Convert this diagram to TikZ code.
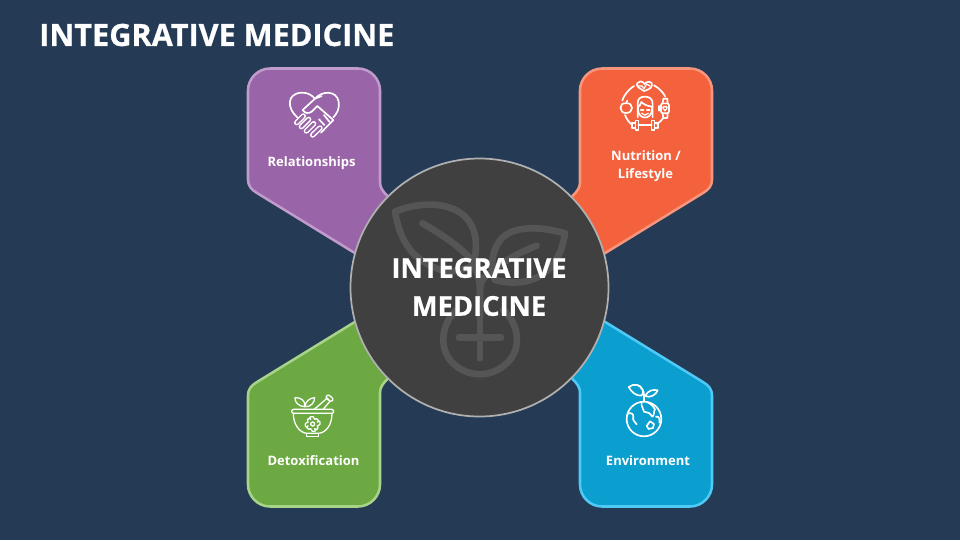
\documentclass[tikz,border=0pt]{standalone}
\usepackage{fontspec}
\setmainfont{Open Sans}[BoldFeatures={FakeBold=0.7}]
\newfontfamily\labf{Open Sans}
\definecolor{bg}{HTML}{243A55}
\definecolor{hubfill}{HTML}{404040}
\definecolor{hubline}{HTML}{B0B0B0}
\definecolor{ghost}{HTML}{555555}
\definecolor{purp}{HTML}{9A64A8}\definecolor{purpl}{HTML}{C19BCB}
\definecolor{oran}{HTML}{F4623D}\definecolor{oranl}{HTML}{F8967D}
\definecolor{gree}{HTML}{6DA942}\definecolor{greel}{HTML}{A8D48A}
\definecolor{blu}{HTML}{0A9FCF}\definecolor{blul}{HTML}{4FC9F6}
\tikzset{
  card/.style={line width=1.9pt,line join=round},
  lab/.style={text=white,font=\labf\bfseries\fontsize{9.75}{12}\selectfont,inner sep=0pt,anchor=center},
  icon/.style={draw=white,line width=1.25pt,line cap=round,line join=round},
  iconthin/.style={draw=white,line width=.95pt,line cap=round,line join=round},
  finger/.style={draw=white,line width=1.1pt,double=purp,double distance=1.8pt,line cap=round},
  gl/.style={draw=ghost,line width=5pt,line cap=round,line join=round},
}
\newcommand{\cardshape}{(-232,-197) .. controls (-232,-209) and (-222,-219) .. (-210,-219) -- (-122,-219) .. controls (-110,-219) and (-100,-209) .. (-100,-197) -- (-100,-105) .. controls (-100,-100) and (-97,-96) .. (-93,-92) -- (-70,-60) -- (-100,-19) -- (-223,-94.5) .. controls (-229,-98) and (-232,-102) .. (-232,-108) -- cycle}
\begin{document}
\begin{tikzpicture}[x=0.75pt,y=-0.75pt]
\useasboundingbox (0,0) rectangle (960,540);
\fill[bg] (0,0) rectangle (960,540);
% cards
\begin{scope}[shift={(480,287.5)}]
\draw[card,fill=purp,draw=purpl] \cardshape;
\begin{scope}[xscale=-1]\draw[card,fill=oran,draw=oranl] \cardshape;\end{scope}
\begin{scope}[yscale=-1]\draw[card,fill=gree,draw=greel] \cardshape;\end{scope}
\begin{scope}[xscale=-1,yscale=-1]\draw[card,fill=blu,draw=blul] \cardshape;\end{scope}
\end{scope}
% hub
\node[circle,fill=hubfill,draw=hubline,line width=1.3pt,minimum size=193.5pt,inner sep=0pt] (hub) at (479.5,287.5) {};
% ghost icon (zoom coordinates)
\begin{scope}[shift={(345,155)},scale=0.3333]
\draw[gl] (150,170) .. controls (210,145) and (300,135) .. (355,180) .. controls (395,215) and (400,270) .. (385,330);
\draw[gl] (150,170) .. controls (165,260) and (205,320) .. (290,345) .. controls (320,352) and (350,350) .. (385,330);
\draw[gl] (232,205) .. controls (285,235) and (340,270) .. (385,320);
\draw[gl] (405,490) -- (405,405) .. controls (405,370) and (395,350) .. (385,330);
\draw[gl] (660,235) .. controls (590,215) and (510,210) .. (470,250) .. controls (440,285) and (435,330) .. (450,375);
\draw[gl] (660,235) .. controls (650,310) and (610,365) .. (540,380) .. controls (505,385) and (475,382) .. (450,375);
\draw[gl] (575,272) .. controls (530,290) and (480,315) .. (445,345);
\draw[gl] (405,405) .. controls (405,375) and (425,355) .. (450,345);
\draw[gl] (335,465) .. controls (285,510) and (280,590) .. (330,630) .. controls (375,668) and (440,668) .. (485,625) .. controls (530,585) and (525,510) .. (475,465);
\draw[gl] (342,548) -- (468,548);
\draw[gl] (405,490) -- (405,610);
\end{scope}
% hub text
\node[text=white,font=\bfseries\fontsize{20.5}{28.5}\selectfont,align=center,inner sep=0pt] (hubtext) at (479,287) {INTEGRATIVE\\MEDICINE};
% title
\node[text=white,font=\bfseries\fontsize{23}{28}\selectfont,anchor=west,inner sep=0pt] (title) at (39,35) {INTEGRATIVE MEDICINE};
% labels
\node[lab] (l1) at (311.5,163) {Relationships};
\node[lab] (l2a) at (646,156) {Nutrition /};
\node[lab] (l2b) at (645.5,175) {Lifestyle};
\node[lab] (l3) at (313.5,461) {Detoxification};
\node[lab] (l4) at (648,461) {Environment};
% handshake icon
\begin{scope}[shift={(240,60)},scale=0.3333]
\draw[icon] (172,172) .. controls (140,145) and (140,100) .. (185,98) .. controls (205,97) and (218,108) .. (225,116) .. controls (245,92) and (290,90) .. (296,125) .. controls (300,145) and (290,162) .. (280,172);
\draw[icon] (245,108) -- (225,116) -- (188,150) .. controls (195,160) and (205,162) .. (215,155) -- (232,138) -- (280,180) -- (243,218);
\draw[finger] (170,188) -- (190,168);
\draw[finger] (184,200) -- (206,178);
\draw[finger] (199,213) -- (221,191);
\draw[finger] (218,225) -- (240,204);
\draw[icon] (237,178) -- (253,195);
\draw[icon] (252,165) -- (268,185);
\end{scope}
% nutrition icon
\begin{scope}[shift={(570,60)},scale=0.3333]
\draw[icon] (192,78) .. controls (170,92) and (158,115) .. (157,122);
\draw[icon] (252,76) .. controls (268,85) and (280,98) .. (286,110);
\draw[icon] (165,165) .. controls (170,178) and (178,188) .. (186,194);
\draw[icon] (262,192) .. controls (270,186) and (275,180) .. (280,174);
\draw[icon] (222,93) -- (205,82) .. controls (195,72) and (205,64) .. (212,64) .. controls (218,64) and (222,70) .. (223,72) .. controls (228,64) and (250,60) .. (245,78) .. controls (244,85) and (232,90) .. (222,93) -- cycle;
\draw[iconthin] (204,78) -- (216,78) -- (222,86) -- (230,72) -- (240,78);
\draw[icon] (168,130) .. controls (146,126) and (146,160) .. (168,159) .. controls (192,160) and (192,126) .. (168,130) -- cycle;
\draw[icon] (168,130) -- (172,122);
\draw[icon,rounded corners=1.5pt] (273,130) rectangle (297,160);
\draw[icon] (278,130) -- (280,116) -- (292,116) -- (293,130);
\draw[icon] (278,160) -- (280,174) -- (292,174) -- (293,160);
\draw[iconthin] (285,152) .. controls (274,143) and (280,136) .. (285,141) .. controls (290,136) and (296,143) .. (285,152) -- cycle;
\draw[icon] (267,138) -- (267,152);
% head
\draw[icon] (203,172) -- (203,130) .. controls (203,115) and (212,110) .. (225,110) .. controls (240,110) and (248,118) .. (248,132) -- (248,172);
\draw[icon] (204,150) .. controls (206,180) and (244,180) .. (246,150) -- (246,140) .. controls (230,138) and (220,132) .. (214,126) .. controls (212,134) and (208,138) .. (204,142) -- cycle;
\draw[iconthin] (212,150) -- (221,150);
\draw[iconthin] (230,150) -- (239,150);
\draw[iconthin] (215,160) .. controls (220,167) and (230,167) .. (235,160);
% dumbbell
\draw[icon] (205,196) -- (245,196);
\draw[icon] (205,182) rectangle (196,211);
\draw[icon] (245,182) rectangle (254,211);
\draw[icon] (196,189) -- (186,189) -- (186,205) -- (196,205);
\draw[icon] (254,189) -- (264,189) -- (264,205) -- (254,205);
\end{scope}
% mortar icon
\begin{scope}[shift={(240,310)},scale=0.3333]
\draw[iconthin,rounded corners=1.5pt] (155,298) rectangle (281,310);
\draw[iconthin] (160,310) .. controls (160,345) and (180,368) .. (200,370) -- (236,370) .. controls (258,368) and (276,345) .. (276,310);
\draw[iconthin] (199,370) -- (199,379) -- (236,379) -- (236,370);
\draw[iconthin] (224,297) -- (262,264) -- (270,274) -- (250,297);
\draw[iconthin,rounded corners=1pt] (256,262) -- (265,253) -- (281,268) -- (272,276) -- cycle;
\draw[iconthin] (194,290) .. controls (170,288) and (164,272) .. (165,263) .. controls (182,262) and (198,272) .. (194,290) -- cycle;
\draw[iconthin] (194,290) .. controls (198,272) and (210,264) .. (224,263) .. controls (224,278) and (212,292) .. (194,290) -- cycle;
\draw[iconthin] (218,342) circle (6);
\foreach \r in {0,90,180,270}{
  \draw[iconthin,rotate around={\r:(218,342)}] (212,328) .. controls (200,322) and (222,312) .. (224,328);
  \draw[iconthin,rotate around={\r:(218,342)}] (224,328) .. controls (230,322) and (240,332) .. (232,336);
}
\end{scope}
% globe icon
\begin{scope}[shift={(570,310)},scale=0.3333]
\draw[icon] (222,327) circle (52);
\draw[icon] (222,275) -- (222,255) .. controls (222,242) and (215,232) .. (205,226);
\draw[icon] (176,231) .. controls (190,220) and (212,222) .. (218,240) .. controls (220,250) and (218,255) .. (214,257) .. controls (198,258) and (184,246) .. (176,231) -- cycle;
\draw[icon] (225,258) .. controls (235,240) and (250,238) .. (263,241) .. controls (258,255) and (240,265) .. (225,258) -- cycle;
\draw[icon] (172,312) .. controls (182,305) and (192,312) .. (190,322) .. controls (186,330) and (195,335) .. (200,343);
\draw[icon] (215,278) .. controls (212,290) and (222,295) .. (222,305) .. controls (232,305) and (242,310) .. (246,320) .. controls (254,318) and (250,305) .. (255,298) .. controls (250,288) and (240,280) .. (232,277);
\draw[icon] (258,320) .. controls (268,318) and (270,328) .. (268,338);
\draw[icon] (240,334) -- (252,342) -- (249,354) -- (236,357) -- (230,348) -- cycle;
\end{scope}
\end{tikzpicture}
\end{document}
